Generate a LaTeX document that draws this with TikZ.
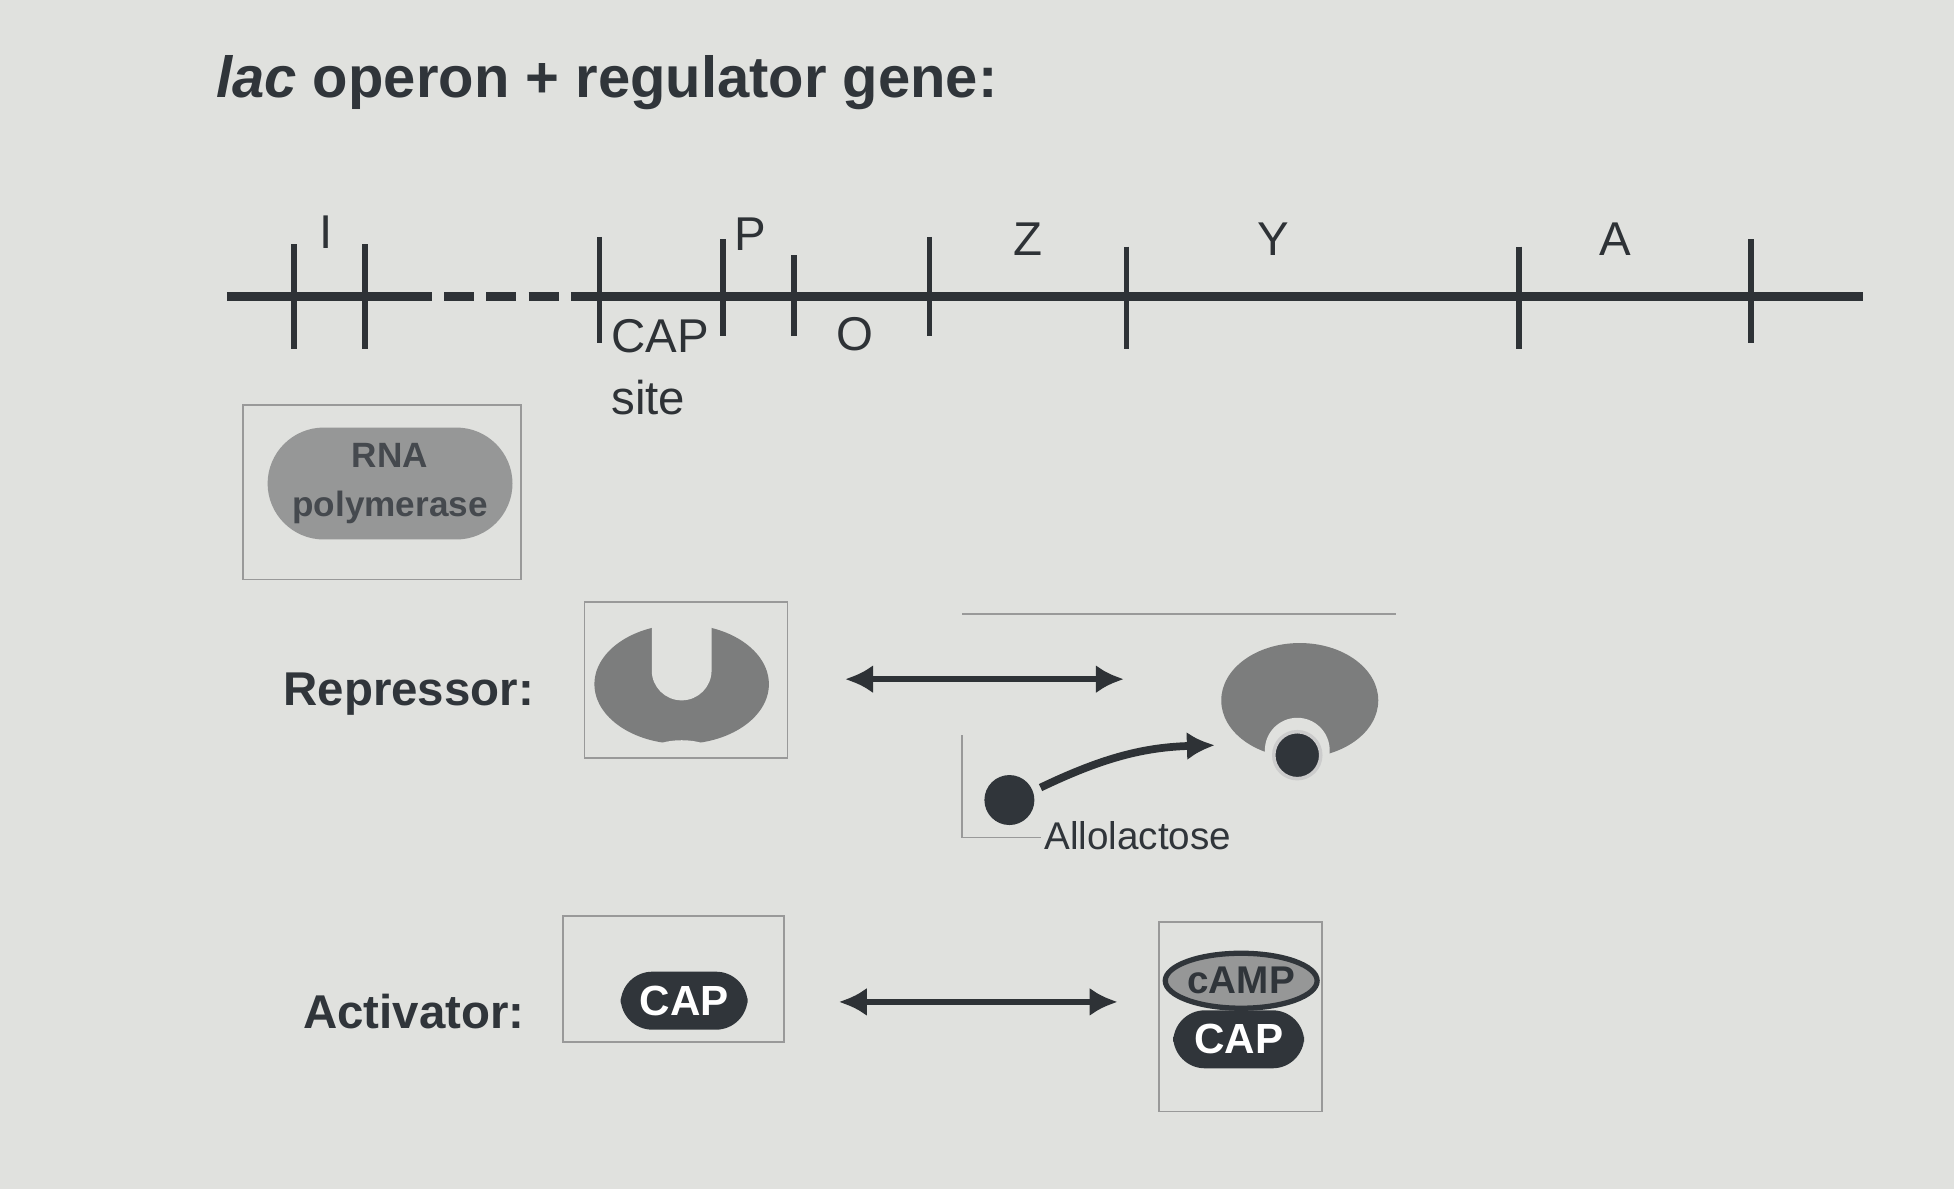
\documentclass[tikz,border=0pt]{standalone}
\usepackage{fontspec}
\setmainfont{Liberation Sans}
\usetikzlibrary{arrows.meta,shapes.geometric}
\definecolor{bg}{HTML}{E0E1DE}
\definecolor{gr}{HTML}{7C7D7D}
\definecolor{dk}{HTML}{30353A}
\definecolor{ln}{HTML}{2E3236}
\tikzset{
 dna/.style={ln,line width=2.4pt},
 tick/.style={ln,line width=1.6pt},
 lbl/.style={font=\fontsize{13.5}{16}\selectfont,text=ln,inner sep=0},
 head/.style={font=\bfseries\fontsize{13.5}{16}\selectfont,text=dk,inner sep=0},
 box/.style={draw=gray!80,line width=0.5pt},
 dbl/.style={ln,line width=1.6pt,{Latex[length=8pt,width=8pt]}-{Latex[length=8pt,width=8pt]}},
 capbox/.style={fill=dk,text=white,font=\bfseries\fontsize{12}{14}\selectfont,inner sep=0,
   rounded corners=9pt,minimum width=1.27cm,minimum height=0.58cm},
}
\begin{document}
\begin{tikzpicture}[x=0.01246cm,y=-0.01246cm]
\fill[bg] (0,0) rectangle (1568,954);
\useasboundingbox (0,0) rectangle (1568,954);
\node[anchor=west,inner sep=0,text=dk,font=\bfseries\fontsize{16.5}{20}\selectfont] (title) at (173,66) {\textit{lac} operon + regulator gene:};
% DNA line
\coordinate (d0) at (182,238); \coordinate (d1) at (334,238);
\coordinate (d2) at (470,238); \coordinate (d3) at (1495,238);
\draw[dna] (d0) -- (d1);
\draw[dna,dash pattern=on 8.5pt off 3.5pt,dash phase=4pt] (d1) -- (d2);
\draw[dna] (d2) -- (d3);
\foreach \x/\a/\b in {236/196/280,293/196/280,481/190/275,580/192/270,637/205/270,746/190/270,904/198/280,1219/198/280,1405/192/275}
  \draw[tick] (\x,\a) -- (\x,\b);
\node[lbl] (lI) at (262,186) {I};
\node[lbl] (lP) at (602,188) {P};
\node[lbl] (lZ) at (825,192) {Z};
\node[lbl] (lY) at (1022,192) {Y};
\node[lbl] (lA) at (1296,192) {A};
\node[lbl] (lO) at (686,268) {O};
\node[lbl,anchor=north west,align=left,font=\fontsize{13.5}{17.5}\selectfont] (cap) at (490,256) {CAP\\site};
% RNA polymerase
\draw[box] (195,325) rectangle (418,465);
\node[fill=gr!80,rounded corners=16pt,inner sep=0,minimum width=2.45cm,minimum height=1.12cm,align=center,font=\bfseries\fontsize{10}{14}\selectfont,text=dk!90] (rna) at (313,388) {RNA\\polymerase};
% Repressor
\node[head] (rep) at (328,557) {Repressor:};
\fill[gr] (547,549) ellipse [x radius=70,y radius=48];
\fill[bg] (523,495) -- (523,538) arc[start angle=180,end angle=0,radius=24] -- (571,495) -- cycle;
\fill[bg] (547,601) ellipse [x radius=22,y radius=7];
\draw[box] (469,483) rectangle (632,608);
\coordinate (ra1) at (678,545); \coordinate (ra2) at (902,545);
\draw[dbl] (ra1) -- (ra2);
\draw[box] (772,493) -- (1120,493);
\draw[box] (772,590) -- (772,672) -- (835,672);
\fill[gr] (1043,562) ellipse [x radius=63,y radius=46];
\fill[bg] (1041,602) circle (26);
\node[circle,fill=dk,draw=gray!40,line width=1pt,minimum size=0.47cm,inner sep=0] (al2) at (1041,606) {};
\node[circle,fill=dk,minimum size=0.5cm,inner sep=0] (al1) at (810,642) {};
\coordinate (ae) at (975,598);
\draw[ln,line width=2.2pt,-{Latex[length=8pt,width=8pt]}] (835,632) to[bend left=12] (ae);
\node[font=\fontsize{11}{13}\selectfont,text=dk,inner sep=0] (allo) at (913,671) {Allolactose};
% Activator
\node[head] (act) at (332,812) {Activator:};
\draw[box] (452,735) rectangle (629,836);
\node[capbox] (cap1) at (549,803) {CAP};
\coordinate (aa1) at (673,804); \coordinate (aa2) at (897,804);
\draw[dbl] (aa1) -- (aa2);
\draw[box] (930,740) rectangle (1061,892);
\node[capbox,minimum width=1.31cm] (cap2) at (994,834) {CAP};
\node[fill=gr!80,draw=dk,line width=1.5pt,ellipse,minimum width=1.3cm,minimum height=0.55cm,inner sep=0,font=\bfseries\fontsize{11}{13}\selectfont,text=dk] (camp) at (996,787) {cAMP};
\end{tikzpicture}
\end{document}
